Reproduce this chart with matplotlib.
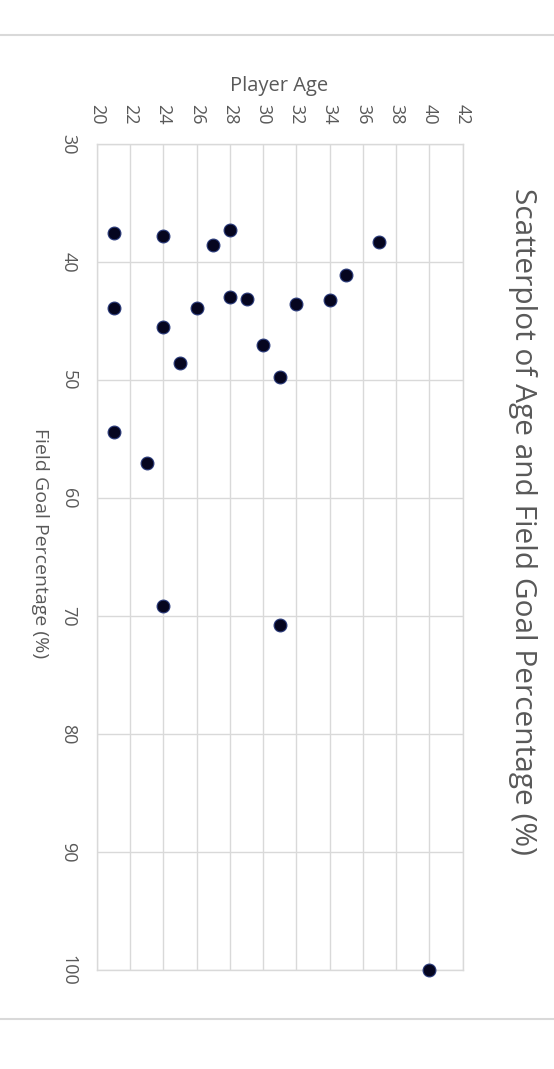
import matplotlib.pyplot as plt
from matplotlib.lines import Line2D
import numpy as np

# Player age vs field goal percentage (chart is drawn rotated 90 degrees)
ages = [21, 24, 28, 27, 37, 35, 21, 26, 28, 29, 32, 34, 24, 30, 25, 31,
        21, 23, 24, 31, 40]
fg_pct = [37.5, 37.8, 37.3, 38.5, 38.3, 41.1, 43.9, 43.9, 42.9, 43.1, 43.5,
          43.2, 45.5, 47.0, 48.5, 49.7, 54.4, 57.0, 69.1, 70.7, 100.0]

age_ticks = list(range(20, 43, 2))
fg_ticks = list(range(30, 101, 10))

title = "Scatterplot of Age and Field Goal Percentage (%)"
age_label = "Player Age"
fg_label = "Field Goal Percentage (%)"

plt.rcParams['font.family'] = ['Open Sans', 'DejaVu Sans']
text_color = '#595959'
grid_color = '#d9d9d9'

W, H = 554, 1069
fig = plt.figure(figsize=(W / 100, H / 100), dpi=100)
ax = fig.add_axes([97 / W, 1 - 970.3 / H, (462.5 - 97) / W, (970.3 - 144.3) / H])

ax.scatter(ages, fg_pct, s=85, facecolor='#05051f', edgecolor='#2a3a7a',
           linewidth=0.8, zorder=3, clip_on=False)

ax.set_xlim(20, 42)
ax.set_ylim(100, 30)
ax.set_xticks(age_ticks)
ax.set_yticks(fg_ticks)
ax.xaxis.tick_top()
ax.grid(True, color=grid_color, linewidth=1.0)
ax.set_axisbelow(True)
for s in ax.spines.values():
    s.set_color(grid_color)
    s.set_linewidth(1.0)
ax.tick_params(length=0, labelsize=13, labelcolor=text_color)
ax.tick_params(axis='x', pad=14)
ax.tick_params(axis='y', pad=14)
for lbl in ax.get_xticklabels():
    lbl.set_rotation(-90)
    lbl.set_va('bottom')
    lbl.set_ha('center')
for lbl in ax.get_yticklabels():
    lbl.set_rotation(-90)
    lbl.set_va('center')
    lbl.set_ha('right')

# axis titles and chart title
fig.text(279 / W, 1 - 86 / H, age_label, fontsize=14.5, color=text_color,
         ha='center', va='center')
fig.text(40 / W, 1 - 543 / H, fg_label, fontsize=14, color=text_color,
         ha='center', va='center', rotation=-90)
fig.text(522 / W, 1 - 522 / H, title, fontsize=21.5, color=text_color,
         ha='center', va='center', rotation=-90)

# chart border edges
for yy in (35, 1019):
    fig.add_artist(Line2D([0, 1], [1 - yy / H, 1 - yy / H], color=grid_color,
                          linewidth=1.5, transform=fig.transFigure))

fig.savefig('out.png', dpi=100, facecolor='white')
